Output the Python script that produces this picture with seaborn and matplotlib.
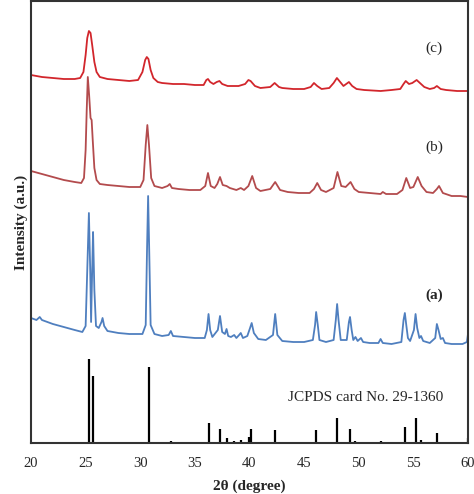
import numpy as np
import pandas as pd
import matplotlib
matplotlib.use("Agg")
import matplotlib.pyplot as plt
import seaborn as sns

# 2theta / intensity (arbitrary units, stacked offsets included)
theta_c = [20.0, 21, 22, 23, 24, 24.5, 24.8, 25.0, 25.15, 25.3, 25.45, 25.6, 25.8, 26.0, 26.3, 27, 28, 29,
           29.8, 30.2, 30.45, 30.6, 30.75, 30.95, 31.2, 31.6, 32, 33, 34, 35, 35.8, 36.05, 36.2, 36.4, 36.7,
           37.0, 37.25, 37.5, 38, 39, 39.6, 39.9, 40.1, 40.5, 41, 41.9, 42.3, 42.7, 43, 44, 45, 45.6, 45.9,
           46.2, 46.6, 47.3, 47.7, 48.0, 48.3, 48.6, 48.85, 49.1, 49.4, 49.8, 50.5, 52, 53, 53.8, 54.1, 54.3,
           54.6, 54.9, 55.3, 55.6, 56.0, 56.5, 56.9, 57.15, 57.5, 58, 59, 60]
int_c = [368, 366, 365, 364, 364, 365, 371, 388, 405, 412, 410, 398, 381, 371, 366, 364, 363, 362,
         363, 371, 383, 386, 384, 373, 365, 361, 360, 359, 359, 358, 358, 363, 364, 361, 359,
         361, 362, 359, 357, 357, 359, 363, 362, 357, 355, 356, 360, 356, 355, 354, 354, 356, 360,
         357, 354, 355, 360, 365, 361, 357, 359, 361, 357, 354, 353, 352, 353, 354, 359, 362,
         359, 360, 363, 360, 356, 354, 355, 357, 354, 353, 352, 352]

theta_b = [20, 21, 22, 23, 24, 24.6, 24.85, 25.0, 25.1, 25.2, 25.32, 25.45, 25.55, 25.65, 25.8, 26.0, 26.3,
           27, 28, 29, 30.0, 30.3, 30.5, 30.65, 30.8, 31.0, 31.3, 32, 32.5, 32.7, 32.9, 33.5, 34.5, 35.5,
           35.95, 36.2, 36.45, 36.8, 37.05, 37.3, 37.55, 37.9, 38.2, 38.8, 39.2, 39.5, 39.9, 40.25, 40.6,
           41, 41.9, 42.35, 42.8, 43.5, 44.5, 45.5, 45.9, 46.2, 46.55, 47, 47.7, 48.05, 48.4, 48.8, 49.25,
           49.6, 50, 51, 52.0, 52.2, 52.5, 53.5, 54.0, 54.35, 54.7, 55.0, 55.4, 55.75, 56.2, 56.8, 57.15,
           57.35, 57.7, 58.5, 59.3, 60]
int_b = [272, 269, 266, 263, 261, 260, 265, 293, 333, 366, 348, 325, 323, 303, 275, 263, 259,
         258, 257, 256, 256, 263, 298, 318, 298, 265, 257, 255, 257, 259, 255, 254, 253, 253,
         257, 270, 257, 255, 259, 266, 258, 257, 255, 253, 255, 253, 257, 267, 255,
         252, 254, 261, 253, 251, 250, 250, 254, 260, 253, 251, 255, 271, 257, 256, 261,
         254, 251, 250, 249, 251, 249, 249, 253, 265, 255, 256, 266, 257, 251, 250, 254,
         257, 250, 247, 247, 246]

theta_a = [20, 20.5, 20.8, 21.0, 22, 23, 24, 24.7, 25.0, 25.15, 25.3, 25.42, 25.5, 25.6, 25.68, 25.8, 25.95,
           26.2, 26.45, 26.55, 26.7, 27, 28, 29, 30.2, 30.5, 30.62, 30.72, 30.82, 30.95, 31.3, 32, 32.6,
           32.8, 33.0, 34, 35, 35.9, 36.1, 36.25, 36.4, 36.6, 37.1, 37.3, 37.5, 37.75, 37.9, 38.05, 38.3,
           38.6, 38.8, 39.05, 39.2, 39.4, 39.8, 40.05, 40.2, 40.4, 40.8, 41.5, 42.15, 42.35, 42.55, 43,
           44, 45, 45.8, 46.0, 46.1, 46.25, 46.4, 47, 47.7, 47.9, 48.02, 48.15, 48.35, 48.9, 49.1, 49.2,
           49.35, 49.5, 49.7, 49.9, 50.2, 50.4, 51, 51.8, 52.0, 52.2, 53, 53.9, 54.1, 54.22, 54.35, 54.5,
           54.7, 55.05, 55.2, 55.35, 55.55, 55.7, 55.9, 56.5, 57.0, 57.15, 57.3, 57.5, 57.7, 57.9, 58.5,
           59.5, 59.9, 60]
int_a = [125, 123, 126, 123, 119, 116, 113, 111, 117, 173, 230, 173, 121, 173, 211, 153, 117,
         115, 121, 125, 117, 112, 110, 109, 109, 118, 193, 247, 193, 118, 109, 107, 108,
         112, 107, 106, 105, 105, 113, 129, 113, 106, 113, 127, 111, 109, 114, 107, 106,
         108, 105, 108, 110, 105, 107, 115, 120, 110, 104, 103, 108, 129, 108, 102,
         101, 101, 103, 118, 131, 118, 103, 101, 103, 123, 139, 123, 103, 103, 121, 126,
         113, 103, 106, 102, 105, 101, 100, 100, 104, 100, 99, 101, 123, 130, 118, 105,
         102, 113, 129, 115, 105, 107, 102, 100, 105, 119, 113, 104, 105, 100, 99,
         99, 101, 109]

# JCPDS card No. 29-1360 reference lines
card_theta = [25.3, 25.7, 30.8, 32.8, 36.25, 37.3, 37.9, 38.6, 39.2, 40.0, 40.15, 42.34, 46.07, 48.01,
              49.17, 49.7, 52.0, 54.2, 55.23, 55.7, 57.18, 57.7, 59.98]
card_int = [84, 67, 76, 2, 20, 14, 5, 2, 3, 6, 14, 13, 13, 25, 14, 2, 2, 16, 25, 3, 10, 1.5, 5]

sns.set_style("white")
plt.rcParams['font.family'] = ['Liberation Serif', 'DejaVu Serif']

fig = plt.figure(figsize=(4.74, 4.94), dpi=100)
ax = fig.add_axes([31 / 474, 51 / 494, 437 / 474, 442 / 494])

curves = [
    (theta_a, int_a, "#4f7fbf"),
    (theta_b, int_b, "#b34b4d"),
    (theta_c, int_c, "#d2262c"),
]
for th, it, col in curves:
    df = pd.DataFrame({"theta": th, "intensity": it})
    sns.lineplot(data=df, x="theta", y="intensity", color=col, linewidth=1.3, ax=ax)

ax.vlines(card_theta, 0, card_int, colors="black", linewidth=1.6)

ax.text(57.7, 395, "(c)", ha="right", va="center", fontsize=11)
ax.text(57.7, 296, "(b)", ha="right", va="center", fontsize=11)
ax.text(57.7, 148, "(a)", ha="right", va="center", fontsize=11, fontweight="bold")
ax.text(57.7, 46, "JCPDS card No. 29-1360", ha="right", va="center", fontsize=11)

ax.set_xlim(20, 60)
ax.set_ylim(0, 442)
ax.set_xticks([20, 25, 30, 35, 40, 45, 50, 55, 60])
ax.set_yticks([])
ax.tick_params(axis="x", length=0, pad=10, labelsize=10.5)
ax.set_xlabel("2θ (degree)", fontsize=11, fontweight="bold", labelpad=7)
ax.set_ylabel("Intensity (a.u.)", fontsize=11, fontweight="bold", labelpad=2)
for sp in ax.spines.values():
    sp.set_color("#333333")
    sp.set_linewidth(1.5)

plt.savefig("out.png", dpi=100)
